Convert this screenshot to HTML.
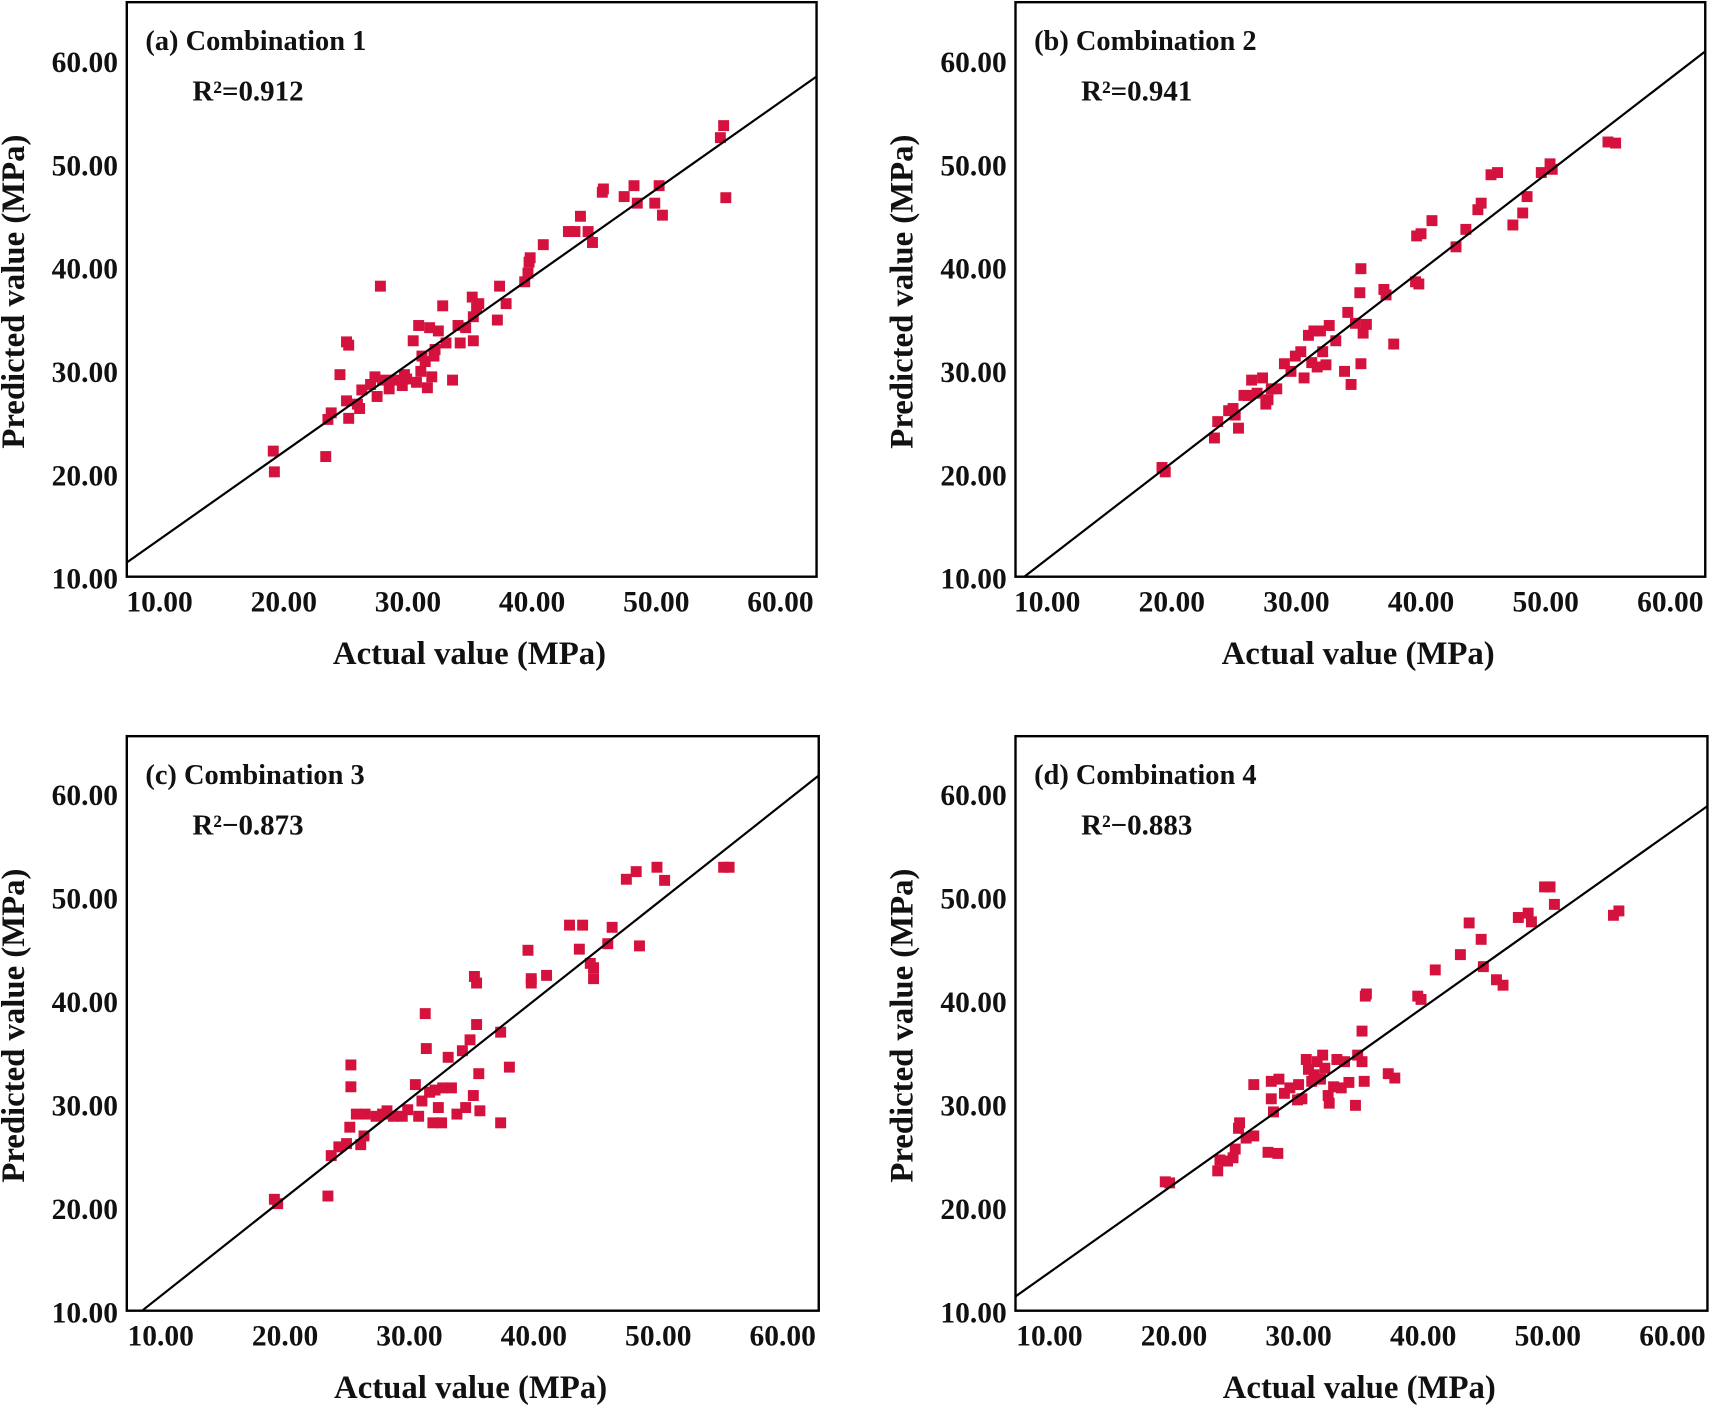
<!DOCTYPE html>
<html><head><meta charset="utf-8"><style>
html,body{margin:0;padding:0;background:#fff;}
svg{display:block;}
text{font-family:"Liberation Serif",serif;font-weight:bold;fill:#111;}
.t{font-size:27px;}
.ax{font-size:30px;}
.ti{font-size:26px;}
.r{font-size:26.5px;}
</style></head><body>
<svg width="1714" height="1409" viewBox="0 0 1568 1290" preserveAspectRatio="none" xmlns="http://www.w3.org/2000/svg">
<g id="pa"></g>
<script><![CDATA[
(function(){
var ns="http://www.w3.org/2000/svg";
var svg=document.querySelector("svg");
function el(n,a,t){var e=document.createElementNS(ns,n);for(var k in a)e.setAttribute(k,a[k]);if(t!==undefined)e.textContent=t;svg.appendChild(e);return e;}
var panels=[
{x0:116,x1:747,y0:2,y1:528,xt:[146,714],yt:[530,57],title:"(a) Combination 1",r:"R²=0.912",line:[116,515,747,70],
pts:[[250,413],[251,432],[298,418],[300,384],[303,378],[311,343],[317,313],[319,316],[319,383],[317,367],[327,370],[329,374],[331,357],[339,352],[345,363],[343,345],[348,262],[350,348],[356,356],[360,348],[368,353],[370,343],[372,347],[378,312],[381,350],[383,298],[385,340],[386,326],[389,331],[391,355],[393,300],[395,345],[397,326],[398,320],[401,303],[405,280],[408,314],[414,348],[419,298],[421,314],[426,300],[432,272],[433,312],[433,290],[436,282],[438,278],[457,262],[455,293],[463,278],[480,258],[483,250],[484,240],[485,236],[497,224],[520,212],[526,212],[531,198],[538,212],[542,222],[551,176],[552,173],[571,180],[580,170],[583,186],[599,186],[603,170],[606,197],[659,126],[662,115],[664,181]]},
{x0:929,x1:1560,y0:2,y1:528,xt:[958,1528],yt:[530,57],title:"(b) Combination 2",r:"R²=0.941",line:[937,528,1560,47],
pts:[[1063,428],[1066,432],[1111,401],[1114,386],[1124,376],[1128,374],[1133,392],[1130,380],[1138,362],[1142,362],[1145,348],[1150,360],[1155,346],[1158,370],[1160,366],[1163,356],[1168,356],[1175,333],[1181,340],[1185,326],[1190,322],[1193,346],[1197,307],[1200,332],[1202,303],[1205,336],[1208,303],[1210,322],[1213,334],[1216,298],[1222,312],[1230,340],[1233,286],[1236,352],[1240,296],[1244,268],[1245,333],[1245,246],[1247,305],[1250,297],[1266,265],[1268,270],[1275,315],[1295,258],[1298,260],[1296,216],[1300,214],[1310,202],[1332,226],[1341,210],[1352,192],[1355,186],[1364,160],[1370,158],[1384,206],[1393,195],[1397,180],[1410,158],[1418,150],[1420,155],[1471,130],[1478,131]]},
{x0:116,x1:749,y0:674,y1:1200,xt:[147,716],yt:[1202,728],title:"(c) Combination 3",r:"R²−0.873",line:[130,1200,749,710],
pts:[[251,1098],[254,1102],[300,1095],[303,1058],[310,1050],[317,1047],[320,1032],[321,975],[321,995],[326,1020],[330,1048],[333,1040],[334,1020],[344,1022],[350,1020],[354,1017],[360,1022],[368,1022],[373,1016],[380,993],[383,1022],[386,1008],[389,928],[390,960],[393,1000],[396,1028],[398,998],[401,1014],[404,1028],[405,996],[410,968],[413,996],[418,1020],[423,962],[426,1014],[430,952],[433,1003],[434,894],[436,900],[436,938],[439,1017],[438,983],[458,945],[458,1028],[466,977],[483,870],[486,900],[486,896],[500,893],[521,847],[530,869],[533,847],[540,882],[543,886],[543,896],[556,864],[560,849],[573,805],[582,798],[585,866],[601,794],[608,806],[662,794],[667,794]]},
{x0:929,x1:1562,y0:674,y1:1200,xt:[960,1530],yt:[1202,728],title:"(d) Combination 4",r:"R²−0.883",line:[929,1187,1562,738],
pts:[[1066,1082],[1070,1083],[1114,1072],[1116,1062],[1123,1063],[1128,1060],[1130,1052],[1133,1033],[1134,1028],[1140,1042],[1147,1040],[1147,993],[1160,1055],[1163,1006],[1165,1018],[1163,990],[1169,1056],[1170,988],[1175,1001],[1180,996],[1187,1007],[1188,993],[1191,1006],[1195,970],[1197,979],[1200,990],[1202,984],[1205,972],[1208,988],[1210,966],[1212,978],[1215,1003],[1216,1010],[1220,995],[1223,970],[1227,996],[1230,972],[1234,991],[1240,1012],[1242,966],[1246,944],[1246,972],[1248,990],[1249,912],[1250,910],[1270,983],[1276,987],[1297,912],[1300,915],[1313,888],[1336,874],[1344,845],[1355,860],[1357,885],[1369,897],[1375,902],[1389,840],[1398,836],[1401,844],[1413,812],[1418,812],[1422,828],[1476,838],[1481,834]]}
];
panels.forEach(function(p){
 p.pts.forEach(function(q){el("rect",{x:q[0]-5,y:q[1]-5,width:10,height:10,fill:"#d4123d"});});
 el("line",{x1:p.line[0],y1:p.line[1],x2:p.line[2],y2:p.line[3],stroke:"#000","stroke-width":2});
 el("rect",{x:p.x0,y:p.y0,width:p.x1-p.x0,height:p.y1-p.y0,fill:"none",stroke:"#000","stroke-width":2.2});
 for(var i=0;i<6;i++){
  var x=p.xt[0]+(p.xt[1]-p.xt[0])*i/5;
  el("text",{x:x,y:p.y1+32,"text-anchor":"middle","class":"t"},((i+1)*10)+".00");
  var y=p.yt[0]+(p.yt[1]-p.yt[0])*i/5;
  el("text",{x:p.x0-8,y:y+9,"text-anchor":"end","class":"t"},((i+1)*10)+".00");
 }
 el("text",{x:(p.x0+p.x1)/2-2,y:p.y1+80,"text-anchor":"middle","class":"ax"},"Actual value (MPa)");
 var cy=(p.y0+p.y1)/2+2;
 el("text",{x:p.x0-94,y:cy,"text-anchor":"middle","class":"ax",transform:"rotate(-90 "+(p.x0-94)+" "+cy+")"},"Predicted value (MPa)");
 el("text",{x:p.x0+17,y:p.y0+44,"class":"ti"},p.title);
 el("text",{x:p.x0+60,y:p.y0+90,"class":"r"},p.r);
});
})();
]]></script>
</svg>
</body></html>
